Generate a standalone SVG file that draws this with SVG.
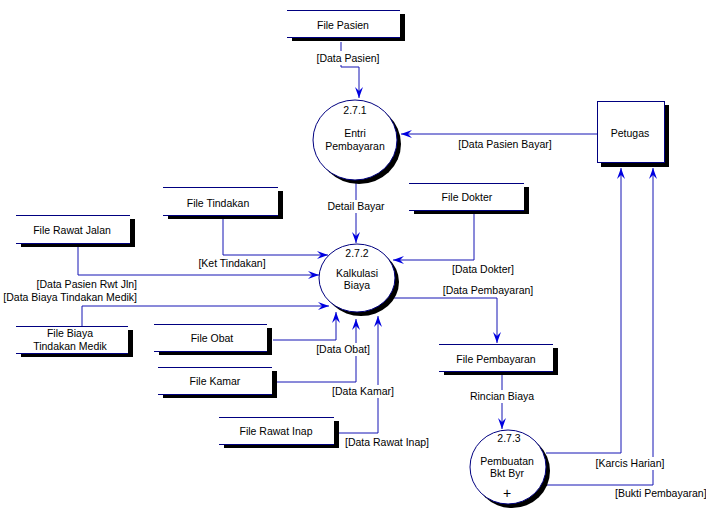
<svg xmlns="http://www.w3.org/2000/svg" width="706" height="510" viewBox="0 0 706 510">
<style>
text{font-family:"Liberation Sans",Arial,sans-serif;font-size:10.5px;fill:#000;text-anchor:middle}
.st{fill:#fff;stroke:none}
.sh{fill:#000;stroke:none}
.sl{stroke:#000080;stroke-width:1;fill:none}
.pr{fill:#fff;stroke:#000080;stroke-width:1}
.cn{fill:none;stroke:#1414b4;stroke-width:1;marker-end:url(#ah)}
.bg{fill:#fff;stroke:none}
</style>
<defs>
<marker id="ah" markerUnits="userSpaceOnUse" markerWidth="13" markerHeight="9" viewBox="-12 -4.5 13 9" refX="0" refY="0" orient="auto">
<path d="M0,0 L-11,-4 L-7,0 L-11,4 Z" fill="#0000e0"/>
</marker>
</defs>
<rect width="706" height="510" fill="#fff"/>

<g id="connectors">
<path class="cn" d="M341,42 V67 H359 V98"/>
<path class="cn" d="M597,134 H401"/>
<path class="cn" d="M356,183 V243"/>
<path class="cn" d="M223,219 V255 H328"/>
<path class="cn" d="M78,247 V275 H319"/>
<path class="cn" d="M82,326 V306 H329"/>
<path class="cn" d="M474,214 V260 H393"/>
<path class="cn" d="M273,340 H336 V312"/>
<path class="cn" d="M277,382 H356 V319"/>
<path class="cn" d="M339,433 H378 V316"/>
<path class="cn" d="M393,298 H497 V343"/>
<path class="cn" d="M502,375 V429"/>
<path class="cn" d="M546,453 H621 V168"/>
<path class="cn" d="M546,485 H653 V168"/>
</g>

<g id="labels">
<rect class="bg" x="315" y="51" width="67" height="14"/>
<text x="348" y="62">[Data Pasien]</text>
<text x="505" y="148">[Data Pasien Bayar]</text>
<rect class="bg" x="326" y="200" width="61" height="13"/>
<text x="356" y="210">Detail Bayar</text>
<text x="232" y="267">[Ket Tindakan]</text>
<text x="483" y="273">[Data Dokter]</text>
<text x="137" y="288" style="text-anchor:end">[Data Pasien Rwt Jln]</text>
<text x="137" y="301" style="text-anchor:end">[Data Biaya Tindakan Medik]</text>
<text x="488" y="294">[Data Pembayaran]</text>
<rect class="bg" x="316" y="343" width="55" height="13"/>
<text x="343" y="353">[Data Obat]</text>
<rect class="bg" x="332" y="385" width="64" height="13"/>
<text x="363" y="395">[Data Kamar]</text>
<text x="387" y="446">[Data Rawat Inap]</text>
<rect class="bg" x="468" y="390" width="68" height="13"/>
<text x="502" y="400">Rincian Biaya</text>
<rect class="bg" x="596" y="457" width="69" height="13"/>
<text x="630" y="467">[Karcis Harian]</text>
<text x="615" y="497" style="text-anchor:start">[Bukti Pembayaran]</text>
</g>

<g id="file-pasien">
<rect class="sh" x="292" y="14" width="113" height="27"/>
<rect class="st" x="287" y="10" width="113" height="27"/>
<path class="sl" d="M287,10.5 H400 M287,37.5 H400"/>
<text x="343" y="29">File Pasien</text>
</g>

<g id="file-tindakan">
<rect class="sh" x="168" y="191" width="115" height="28"/>
<rect class="st" x="163" y="187" width="115" height="28"/>
<path class="sl" d="M163,187.5 H278 M163,215.5 H278"/>
<text x="218" y="207">File Tindakan</text>
</g>

<g id="file-dokter">
<rect class="sh" x="414" y="187" width="115" height="27"/>
<rect class="st" x="409" y="183" width="115" height="27"/>
<path class="sl" d="M409,183.5 H524 M409,210.5 H524"/>
<text x="467" y="201">File Dokter</text>
</g>

<g id="file-rawat-jalan">
<rect class="sh" x="21" y="219" width="114" height="28"/>
<rect class="st" x="16" y="215" width="114" height="28"/>
<path class="sl" d="M16,215.5 H130 M16,243.5 H130"/>
<text x="72" y="234">File Rawat Jalan</text>
</g>

<g id="file-biaya-tindakan-medik">
<rect class="sh" x="21" y="330" width="112" height="27"/>
<rect class="st" x="16" y="326" width="112" height="27"/>
<path class="sl" d="M16,326.5 H128 M16,353.5 H128"/>
<text x="70" y="337">File Biaya</text>
<text x="70" y="350">Tindakan Medik</text>
</g>

<g id="file-obat">
<rect class="sh" x="159" y="328" width="113" height="27"/>
<rect class="st" x="154" y="324" width="113" height="27"/>
<path class="sl" d="M154,324.5 H267 M154,351.5 H267"/>
<text x="212" y="342">File Obat</text>
</g>

<g id="file-kamar">
<rect class="sh" x="163" y="371" width="114" height="27"/>
<rect class="st" x="158" y="367" width="114" height="27"/>
<path class="sl" d="M158,367.5 H272 M158,394.5 H272"/>
<text x="215" y="385">File Kamar</text>
</g>

<g id="file-rawat-inap">
<rect class="sh" x="224" y="421" width="115" height="27"/>
<rect class="st" x="219" y="417" width="115" height="27"/>
<path class="sl" d="M219,417.5 H334 M219,444.5 H334"/>
<text x="276" y="435">File Rawat Inap</text>
</g>

<g id="file-pembayaran">
<rect class="sh" x="444" y="348" width="114" height="27"/>
<rect class="st" x="439" y="344" width="114" height="27"/>
<path class="sl" d="M439,344.5 H553 M439,371.5 H553"/>
<text x="496" y="363">File Pembayaran</text>
</g>

<g id="petugas">
<rect class="sh" x="601" y="105" width="68" height="62"/>
<rect class="pr" x="597.5" y="101.5" width="67" height="61"/>
<text x="630" y="137">Petugas</text>
</g>

<g id="proc-2-7-1">
<ellipse class="sh" cx="359" cy="144" rx="42" ry="40"/>
<ellipse class="pr" cx="355" cy="140" rx="42" ry="40"/>
<text x="355" y="114">2.7.1</text>
<text x="355" y="137">Entri</text>
<text x="355" y="150">Pembayaran</text>
</g>

<g id="proc-2-7-2">
<ellipse class="sh" cx="361" cy="282" rx="38" ry="34"/>
<ellipse class="pr" cx="357" cy="278" rx="38" ry="34"/>
<text x="357" y="257">2.7.2</text>
<text x="357" y="277">Kalkulasi</text>
<text x="357" y="289">Biaya</text>
</g>

<g id="proc-2-7-3">
<ellipse class="sh" cx="512" cy="471" rx="38" ry="37"/>
<ellipse class="pr" cx="508" cy="467" rx="38" ry="37"/>
<text x="509" y="442">2.7.3</text>
<text x="507" y="465">Pembuatan</text>
<text x="507" y="477">Bkt Byr</text>
<text x="507" y="498" style="font-size:14px">+</text>
</g>
</svg>
